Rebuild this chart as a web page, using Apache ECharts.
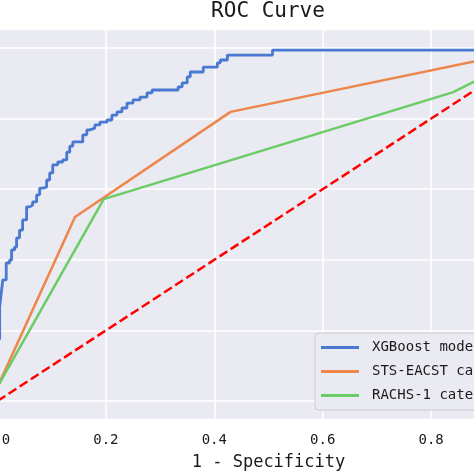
<!DOCTYPE html>
<html>
<head>
<meta charset="utf-8">
<script src="https://cdn.jsdelivr.net/npm/echarts@6/dist/echarts.min.js"></script>
<style>html,body{margin:0;padding:0;background:#fff;}#c{width:474px;height:474px;}</style>
</head>
<body>
<div id="c"></div>
<script>
const tickValues = [0, 0.2, 0.4, 0.6, 0.8, 1.0];

const xgbFpr = [0, 0, 0.004, 0.004, 0.0069, 0.0098, 0.0161, 0.0222, 0.0259, 0.0315, 0.0352, 0.0407, 0.0463, 0.0537, 0.0593, 0.0648, 0.0722, 0.0778, 0.0833, 0.0907, 0.0963, 0.1019, 0.1111, 0.1204, 0.1278, 0.1333, 0.1389, 0.1463, 0.1574, 0.1648, 0.1704, 0.1796, 0.1889, 0.2019, 0.2111, 0.2204, 0.2296, 0.2389, 0.2500, 0.2630, 0.2759, 0.2852, 0.2944, 0.3333, 0.3407, 0.3500, 0.3556, 0.3593, 0.3796, 0.3833, 0.4056, 0.4111, 0.4241, 0.4333, 0.5074, 0.5148, 1.0];
const xgbTpr = [0, 0.15, 0.175, 0.20, 0.266, 0.306, 0.343, 0.391, 0.399, 0.428, 0.436, 0.462, 0.484, 0.513, 0.550, 0.555, 0.564, 0.584, 0.603, 0.606, 0.626, 0.646, 0.669, 0.677, 0.683, 0.705, 0.722, 0.734, 0.734, 0.754, 0.768, 0.773, 0.782, 0.790, 0.796, 0.810, 0.819, 0.830, 0.844, 0.853, 0.861, 0.873, 0.881, 0.881, 0.890, 0.901, 0.918, 0.932, 0.932, 0.946, 0.946, 0.958, 0.966, 0.980, 0.980, 0.994, 0.994];

const stsFpr = [0, 0.143, 0.43, 1.0];
const stsTpr = [0.04, 0.521, 0.819, 1.0];

const rachsFpr = [0, 0.196, 0.841, 1.0];
const rachsTpr = [0.04, 0.572, 0.875, 1.0];

const chanceFpr = [0, 1];
const chanceTpr = [0, 1];

const seriesNames = ['XGBoost model (AUC = 0.91)', 'STS-EACST category (AUC = 0.72)', 'RACHS-1 category (AUC = 0.65)'];
const colors = ['#4878d0', '#ee854a', '#6acc64'];

function pairs(xs, ys) { return xs.map((x, i) => [x, ys[i]]); }

const chart = echarts.init(document.getElementById('c'), null, { renderer: 'canvas' });
const mono = 'DejaVu Sans Mono';
chart.setOption({
  animation: false,
  backgroundColor: '#ffffff',
  title: {
    text: 'ROC Curve',
    left: 268,
    textAlign: 'center',
    top: 1,
    padding: 0,
    textStyle: { fontFamily: mono, fontSize: 21, fontWeight: 'normal', color: '#1a1a1a' }
  },
  grid: {
    left: -29.6, right: -92.6, top: 30.35, bottom: 55.35,
    show: true, backgroundColor: '#eaeaf2', borderWidth: 0,
    containLabel: false,
    outerBoundsMode: 'none'
  },
  xAxis: {
    type: 'value', min: -0.05, max: 1.05,
    name: '1 - Specificity', nameLocation: 'middle', nameGap: 35,
    nameTextStyle: { fontFamily: mono, fontSize: 17, color: '#1a1a1a' },
    axisLine: { show: false },
    axisTick: { show: false, customValues: tickValues },
    axisLabel: { customValues: tickValues, margin: 14.5, fontFamily: mono, fontSize: 14, color: '#1a1a1a', formatter: v => v.toFixed(1) },
    splitLine: { show: true, lineStyle: { color: '#ffffff', width: 1.5 } }
  },
  yAxis: {
    type: 'value', min: -0.05, max: 1.05,
    name: 'Sensitivity', nameLocation: 'middle', nameGap: 40,
    nameTextStyle: { fontFamily: mono, fontSize: 17, color: '#1a1a1a' },
    axisLine: { show: false },
    axisTick: { show: false, customValues: tickValues },
    axisLabel: { customValues: tickValues, fontFamily: mono, fontSize: 14, color: '#1a1a1a', formatter: v => v.toFixed(1) },
    splitLine: { show: true, lineStyle: { color: '#ffffff', width: 1.5 } }
  },
  legend: {
    orient: 'vertical',
    left: 315, top: 333,
    padding: [6.5, 10, 6.5, 6],
    itemWidth: 38, itemHeight: 3, itemGap: 8,
    icon: 'rect',
    backgroundColor: '#eaeaf2',
    borderColor: '#cccccc', borderWidth: 1, borderRadius: 4,
    textStyle: { fontFamily: mono, fontSize: 14, lineHeight: 16, color: '#1a1a1a', padding: [0, 0, 0, 8] },
    data: seriesNames
  },
  series: [
    { name: seriesNames[0], type: 'line', data: pairs(xgbFpr, xgbTpr), step: 'start', showSymbol: false, symbol: 'none', color: colors[0], lineStyle: { width: 2.8, color: colors[0] }, z: 3 },
    { name: seriesNames[1], type: 'line', data: pairs(stsFpr, stsTpr), showSymbol: false, symbol: 'none', color: colors[1], lineStyle: { width: 2.5, color: colors[1] }, z: 3 },
    { name: seriesNames[2], type: 'line', data: pairs(rachsFpr, rachsTpr), showSymbol: false, symbol: 'none', color: colors[2], lineStyle: { width: 2.5, color: colors[2] }, z: 3 },
    { name: 'chance', type: 'line', data: pairs(chanceFpr, chanceTpr), showSymbol: false, symbol: 'none', color: '#ff0000', lineStyle: { width: 2.5, color: '#ff0000', type: [9.25, 4] }, z: 3 }
  ]
});
</script>
</body>
</html>
